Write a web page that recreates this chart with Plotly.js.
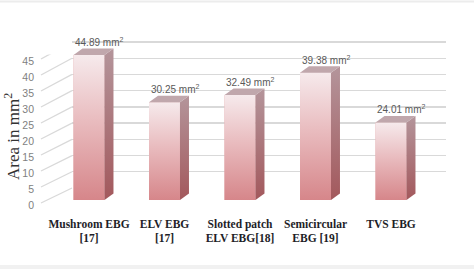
<!DOCTYPE html>
<html>
<head>
<meta charset="utf-8">
<script src="https://cdn.plot.ly/plotly-3.0.1.min.js"></script>
<style>html,body{margin:0;padding:0;background:#fff}#chart{width:474px;height:269px}</style>
</head>
<body>
<div id="chart"></div>
<script>
// ---- data ----
const categories = ['Mushroom EBG<br>[17]', 'ELV EBG<br>[17]', 'Slotted patch<br>ELV EBG[18]', 'Semicircular<br>EBG [19]', 'TVS EBG'];
const areas = [44.89, 30.25, 32.49, 39.38, 24.01];
const yTickValues = [0, 5, 10, 15, 20, 25, 30, 35, 40, 45];
const unitLabel = ' mm<sup>2</sup>';
const yTitle = 'Area in mm<sup>2</sup>';

// ---- geometry (pixels) ----
const W = 474, H = 269;
const barBasePx = 200, barTopPx = 38.5;           // y2: 0..50
const backZeroPx = 188, backPxPerUnit = 146 / 45;  // back wall
const lblZeroPx = 205, lblPxPerUnit = 144 / 45;    // front tick labels
const axMax = 47;                                  // extra headroom so the 45 tick is kept
const x2L = 51.25, x2R = 428.75;                   // x2: -0.5..4.5
const depthPx = {dx: 9, dy: 6.5};
const barW = 0.41;

const pxPerX = (x2R - x2L) / 5;
const pxPerY2 = (barBasePx - barTopPx) / 50;
const ddx = depthPx.dx / pxPerX, ddy = depthPx.dy / pxPerY2;
const py = p => 1 - p / H;

const traces = [];
traces.push({type: 'scatter', x: [], y: [], xaxis: 'x', yaxis: 'y', showlegend: false, hoverinfo: 'skip'});

const idx = areas.map((_, i) => i);
traces.push({type: 'bar', x: idx, y: areas, width: barW, xaxis: 'x2', yaxis: 'y2',
  marker: {color: '#e1a3a5', line: {width: 0}}, showlegend: false, hoverinfo: 'skip'});

areas.forEach((v, i) => {
  const l = i - barW / 2, r = i + barW / 2;
  traces.push({type: 'scatter', mode: 'lines', xaxis: 'x2', yaxis: 'y2', showlegend: false, hoverinfo: 'skip',
    x: [l, r, r, l, l], y: [0, 0, v, v, 0], line: {width: 0}, fill: 'toself',
    fillgradient: {type: 'vertical', colorscale: [[0, '#d6868a'], [0.55, '#e9bcbf'], [1, '#f6eaec']]}});
  traces.push({type: 'scatter', mode: 'lines', xaxis: 'x2', yaxis: 'y2', showlegend: false, hoverinfo: 'skip',
    x: [r, r + ddx, r + ddx, r, r], y: [0, ddy, v + ddy, v, 0], line: {width: 0}, fill: 'toself',
    fillgradient: {type: 'vertical', colorscale: [[0, '#a3585c'], [1, '#b4959b']]}});
  traces.push({type: 'scatter', mode: 'lines', xaxis: 'x2', yaxis: 'y2', showlegend: false, hoverinfo: 'skip',
    x: [l, l + ddx, r + ddx, r, l], y: [v, v + ddy, v + ddy, v, v], line: {width: 0}, fill: 'toself',
    fillcolor: '#c0a7ac'});
});

const toY3 = p => (lblZeroPx - p) / lblPxPerUnit;
const dxs = [], dys = [];
yTickValues.forEach(t => {
  const frontY = lblZeroPx - t * lblPxPerUnit - 2;
  const backY = backZeroPx - t * backPxPerUnit;
  dxs.push(41, 72, null);
  dys.push(toY3(frontY), toY3(backY), null);
});
traces.push({type: 'scatter', mode: 'lines', xaxis: 'x3', yaxis: 'y3', x: dxs, y: dys,
  line: {color: '#d9d9d9', width: 1.3}, connectgaps: false, showlegend: false, hoverinfo: 'skip'});

const annotations = areas.map((v, i) => ({
  xref: 'x2', yref: 'y2', x: i, y: v, xshift: 10, yshift: 13, showarrow: false,
  xanchor: 'center', yanchor: 'middle',
  text: v.toFixed(2) + unitLabel, font: {family: 'Liberation Sans, Arial', size: 10, color: '#595959'}
}));
annotations.push({xref: 'paper', yref: 'paper', x: 12 / W, y: py(137), xanchor: 'center', yanchor: 'middle',
  textangle: -90, showarrow: false,
  text: yTitle, font: {family: 'Liberation Serif, Times New Roman', size: 17, color: '#333333'}});

const layout = {
  width: W, height: H, margin: {l: 0, r: 0, t: 0, b: 0, autoexpand: false},
  paper_bgcolor: '#ffffff', plot_bgcolor: 'rgba(0,0,0,0)', showlegend: false,
  xaxis: {domain: [72 / W, 446 / W], range: [0, 1], showgrid: false, zeroline: false, showticklabels: false, showline: false},
  yaxis: {domain: [py(backZeroPx), py(backZeroPx - axMax * backPxPerUnit)], range: [0, axMax], autorange: false,
    tickmode: 'array', tickvals: yTickValues, showgrid: true, gridcolor: '#d9d9d9', gridwidth: 1.3,
    zeroline: false, showticklabels: false, showline: false},
  xaxis2: {domain: [x2L / W, x2R / W], range: [-0.5, 4.5], anchor: 'y2', tickvals: idx, ticktext: categories, ticks: '',
    ticklabelstandoff: 15, showgrid: false, zeroline: false, showline: false,
    tickfont: {family: 'Liberation Serif, Times New Roman', size: 11.5, color: '#1e1e28', weight: 'bold'}},
  yaxis2: {domain: [py(barBasePx), py(barTopPx)], range: [0, 50], anchor: 'x2', visible: false},
  xaxis3: {domain: [0, 1], range: [0, W], anchor: 'y3', visible: false},
  yaxis3: {domain: [py(lblZeroPx), py(lblZeroPx - axMax * lblPxPerUnit)], range: [0, axMax], autorange: false,
    anchor: 'free', position: 34 / W,
    tickmode: 'array', tickvals: yTickValues, ticks: '', showgrid: false, zeroline: false, showline: false,
    color: '#7f7f7f', tickfont: {family: 'Liberation Sans, Arial', size: 10.5, color: '#7f7f7f'}},
  annotations: annotations,
  shapes: [
    {type: 'rect', xref: 'paper', yref: 'paper', x0: 0, x1: 1, y0: 0, y1: py(265), fillcolor: '#f1f1f1', line: {width: 0}, layer: 'below'},
    {type: 'line', xref: 'paper', yref: 'paper', x0: 0, x1: 1, y0: py(1.5), y1: py(1.5), line: {color: '#ececec', width: 2}, layer: 'below'}
  ]
};

Plotly.newPlot('chart', traces, layout, {staticPlot: true, displayModeBar: false});
</script>
</body>
</html>
